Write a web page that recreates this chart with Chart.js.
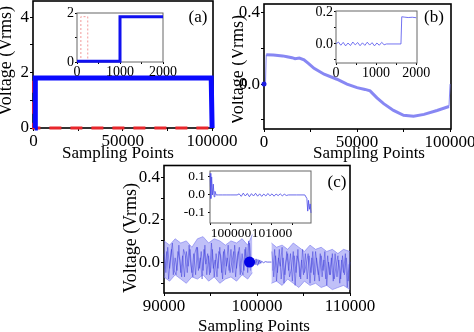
<!DOCTYPE html>
<html>
<head>
<meta charset="utf-8">
<script src="https://cdn.jsdelivr.net/npm/chart.js@4.4.1/dist/chart.umd.min.js"></script>
<style>
  body { margin: 0; background: #fff; width: 474px; height: 332px; position: relative; overflow: hidden; }
  canvas { position: absolute; }
</style>
</head>
<body>
<canvas id="ca"></canvas>
<canvas id="cb"></canvas>
<canvas id="cc"></canvas>
<canvas id="ia"></canvas>
<canvas id="ib"></canvas>
<canvas id="ic"></canvas>
<script>
// ---- panel (a) ----
const aBlueX = [600, 1000, 1000, 99500, 100000];
const aBlueY = [0, 0, 1.8, 1.8, 0];
const aRedX = [0, 0, 100000];
const aRedY = [1.7, 0, 0];
const aXTicks = [0, 25000, 50000, 75000, 100000];
const aXLabels = ['0', '', '50000', '', '100000'];
const aYTicks = [0, 1, 2, 3, 4];
const aYLabels = ['0', '', '2', '', '4'];

// inset (a)
const iaBlueX = [0, 1000, 1000, 2000];
const iaBlueY = [0.03, 0.03, 1.85, 1.85];
const iaPinkX = [90, 90, 250, 250];
const iaPinkY = [0, 1.85, 1.85, 0];
const iaXTicks = [0, 500, 1000, 1500, 2000];
const iaXLabels = ['0', '', '1000', '', '2000'];
const iaYTicks = [0, 1, 2];
const iaYLabels = ['0', '', '2'];

// ---- panel (b) ----
const bX = [800, 1200, 5000, 10000, 12400, 15000, 16700, 19000, 21500, 24000, 26900, 32300, 39200, 44600,
            50000, 54300, 57000, 60700, 64300, 69600, 75000, 80400, 86000, 93000, 99400, 100000];
const bY = [0.0, 0.165, 0.163, 0.158, 0.153, 0.148, 0.142, 0.146, 0.136, 0.115, 0.088, 0.055, 0.027, 0.0,
            -0.02, -0.03, -0.038, -0.077, -0.11, -0.148, -0.175, -0.18, -0.17, -0.148, -0.126, 0.0];
const bDotX = [0];
const bDotY = [0.0];
const bXTicks = [0, 25000, 50000, 75000, 100000];
const bXLabels = ['0', '', '50000', '', '100000'];
const bYTicks = [-0.2, 0, 0.2, 0.4];
const bYLabels = ['', '0.0', '', '0.4'];

// inset (b)
const ibX = [0, 60, 120, 180, 240, 300, 360, 420, 480, 540, 600, 660, 720, 780, 840, 900, 960, 1020, 1080,
             1140, 1200, 1260, 1620, 1640, 1700, 1800, 1900, 2000];
const ibY = [0.0, 0.012, -0.008, 0.01, -0.012, 0.006, -0.01, 0.012, -0.006, 0.009, -0.011, 0.007, -0.009,
             0.011, -0.007, 0.008, -0.012, 0.006, -0.008, 0.01, -0.005, 0.0, 0.0, 0.17, 0.168, 0.165, 0.167, 0.164];
const ibXTicks = [0, 500, 1000, 1500, 2000];
const ibXLabels = ['0', '', '1000', '', '2000'];
const ibYTicks = [-0.1, 0, 0.1, 0.2];
const ibYLabels = ['', '0.0', '', '0.2'];

// ---- panel (c) ----
const cLX = [90000, 90600, 91200, 91800, 92400, 93000, 93600, 94200, 94800, 95400, 96000, 96600, 97200,
             97800, 98400, 99000, 99500];
const cLUp = [0.10, 0.08, 0.11, 0.09, 0.10, 0.07, 0.11, 0.12, 0.09, 0.11, 0.10, 0.08, 0.10, 0.09, 0.11, 0.08, 0.13];
const cLLo = [-0.07, -0.09, -0.06, -0.08, -0.10, -0.07, -0.08, -0.06, -0.09, -0.07, -0.10, -0.08, -0.07,
              -0.09, -0.06, -0.08, -0.05];
const cLTrX = [90000, 90200, 90400, 90600, 90800, 91000, 91200, 91400, 91600, 91800, 92000, 92200, 92400,
               92600, 92800, 93000, 93200, 93400, 93600, 93800, 94000, 94200, 94400, 94600, 94800, 95000,
               95200, 95400, 95600, 95800, 96000, 96200, 96400, 96600, 96800, 97000, 97200, 97400, 97600,
               97800, 98000, 98200, 98400, 98600, 98800, 99000, 99200, 99400];
const cLTrY = [0.04, -0.05, 0.07, -0.03, 0.06, -0.06, 0.02, -0.04, 0.08, -0.05, 0.03, -0.07, 0.05, -0.02,
               0.06, -0.05, 0.04, -0.06, 0.07, -0.03, 0.05, -0.04, 0.08, -0.06, 0.03, -0.05, 0.06, -0.07,
               0.04, -0.03, 0.07, -0.05, 0.05, -0.06, 0.02, -0.04, 0.06, -0.05, 0.08, -0.03, 0.05, -0.06,
               0.04, -0.04, 0.07, -0.05, 0.09, -0.02];
const cLTr2X = [90100, 90300, 90500, 90700, 90900, 91100, 91300, 91500, 91700, 91900, 92100, 92300, 92500,
                92700, 92900, 93100, 93300, 93500, 93700, 93900, 94100, 94300, 94500, 94700, 94900, 95100,
                95300, 95500, 95700, 95900, 96100, 96300, 96500, 96700, 96900, 97100, 97300, 97500, 97700,
                97900, 98100, 98300, 98500, 98700, 98900, 99100, 99300];
const cLTr2Y = [-0.03, 0.05, -0.08, 0.02, 0.09, -0.04, -0.06, 0.05, 0.01, -0.07, 0.06, 0.03, -0.05, 0.08,
                -0.02, -0.07, 0.04, 0.07, -0.04, 0.02, -0.08, 0.06, -0.01, 0.04, -0.06, 0.09, -0.03, 0.01,
                -0.07, 0.05, 0.03, -0.08, 0.06, -0.02, 0.08, -0.05, 0.0, 0.05, -0.07, 0.03, 0.07, -0.04,
                -0.06, 0.06, -0.02, 0.1, -0.04];
const cRX = [101550, 102100, 102700, 103300, 103900, 104500, 105100, 105700, 106300, 106900, 107500,
             108100, 108700, 109300, 110000];
const cRUp = [0.09, 0.07, 0.08, 0.06, 0.09, 0.07, 0.05, 0.08, 0.06, 0.07, 0.05, 0.06, 0.04, 0.06, 0.05];
const cRLo = [-0.10, -0.09, -0.11, -0.08, -0.10, -0.12, -0.09, -0.11, -0.10, -0.12, -0.11, -0.13, -0.12,
              -0.11, -0.13];
const cRTrX = [101600, 101800, 102000, 102200, 102400, 102600, 102800, 103000, 103200, 103400, 103600,
               103800, 104000, 104200, 104400, 104600, 104800, 105000, 105200, 105400, 105600, 105800,
               106000, 106200, 106400, 106600, 106800, 107000, 107200, 107400, 107600, 107800, 108000,
               108200, 108400, 108600, 108800, 109000, 109200, 109400, 109600, 109800, 110000];
const cRTrY = [0.05, -0.07, 0.03, -0.05, 0.06, -0.08, 0.02, -0.06, 0.05, -0.04, 0.04, -0.09, 0.03, -0.05,
               0.06, -0.07, 0.01, -0.06, 0.04, -0.08, 0.03, -0.05, 0.05, -0.09, 0.02, -0.06, 0.04, -0.07,
               0.01, -0.08, 0.03, -0.06, 0.02, -0.09, 0.04, -0.07, 0.01, -0.08, 0.03, -0.06, 0.02, -0.09, 0.0];
const cRTr2X = [101700, 101900, 102100, 102300, 102500, 102700, 102900, 103100, 103300, 103500, 103700,
                103900, 104100, 104300, 104500, 104700, 104900, 105100, 105300, 105500, 105700, 105900,
                106100, 106300, 106500, 106700, 106900, 107100, 107300, 107500, 107700, 107900, 108100,
                108300, 108500, 108700, 108900, 109100, 109300, 109500, 109700, 109900];
const cRTr2Y = [-0.04, 0.06, -0.09, 0.02, -0.02, 0.07, -0.1, 0.0, 0.04, -0.07, -0.03, 0.05, -0.11, 0.03,
                0.0, -0.08, 0.06, -0.05, -0.01, 0.04, -0.1, 0.02, -0.06, 0.05, -0.03, -0.09, 0.03, -0.04,
                0.05, -0.11, 0.0, -0.06, 0.04, -0.08, -0.02, 0.03, -0.1, 0.01, -0.05, 0.04, -0.12, -0.01];
const cMX = [99500, 99700, 99800, 99900, 100000, 100100, 100200, 100300, 100400, 100500, 100700, 100900,
             101100, 101300, 101550];
const cMY = [0.0, 0.01, -0.012, 0.015, -0.014, 0.012, -0.01, 0.01, -0.006, 0.004, -0.003, 0.002, 0.0, 0.0, 0.0];
const cDotX = [99200];
const cDotY = [0.0];
const cXTicks = [90000, 95000, 100000, 105000, 110000];
const cXLabels = ['90000', '', '100000', '', '110000'];
const cYTicks = [-0.1, 0, 0.1, 0.2, 0.3, 0.4];
const cYLabels = ['', '0.0', '', '0.2', '', '0.4'];

// inset (c)
const icX = [99490, 99510, 99530, 99550, 99570, 99590, 99610, 99640, 99700, 99800, 99900, 100000, 100150,
             100200, 100250, 100300, 100350, 100400, 100450, 100500, 100550, 100600, 100650, 100700,
             100750, 100800, 100850, 100900, 100950, 101000, 101050, 101100, 101150, 101200, 101250,
             101300, 101350, 101400, 101600, 101800, 101850, 101870, 101890, 101910, 101930, 101950];
const icY = [0.12, -0.02, 0.10, 0.0, 0.06, -0.01, 0.02, 0.0, 0.0, 0.0, 0.0, 0.0, 0.0, 0.006, -0.008, 0.01,
             -0.006, 0.008, -0.01, 0.007, -0.006, 0.009, -0.007, 0.006, -0.008, 0.005, -0.006, 0.008,
             -0.005, 0.006, -0.007, 0.005, -0.004, 0.006, -0.005, 0.004, -0.003, 0.0, 0.0, 0.0, -0.02,
             -0.09, -0.03, -0.08, -0.05, -0.1];
const icXTicks = [99500, 100000, 100500, 101000, 101500];
const icXLabels = ['', '100000', '', '101000', ''];
const icYTicks = [-0.1, 0, 0.1];
const icYLabels = ['-0.1', '0.0', '0.1'];

const FONT = 'Liberation Serif';
const pts = (xs, ys) => xs.map((x, i) => ({ x: x, y: ys[i] }));

// box around the plot area
const framePlugin = {
  id: 'frame',
  beforeDatasetsDraw(chart, args, o) {
    const a = chart.chartArea, c = chart.ctx;
    c.save();
    c.strokeStyle = o.color;
    c.lineWidth = o.width;
    c.strokeRect(a.left, a.top, a.right - a.left, a.bottom - a.top);
    c.restore();
  }
};

// axis titles and panel letters, given in page coordinates
const textPlugin = {
  id: 'texts',
  afterDraw(chart, args, o) {
    const c = chart.ctx;
    (o.items || []).forEach(t => {
      c.save();
      c.font = t.size + 'px "' + FONT + '"';
      c.fillStyle = '#000';
      c.textAlign = 'center';
      c.textBaseline = 'alphabetic';
      c.translate(t.x - o.ox, t.y - o.oy);
      if (t.rot) c.rotate(-Math.PI / 2);
      c.fillText(t.text, 0, 0);
      c.restore();
    });
  }
};

function axis(min, max, ticks, labels, size, fixed, horiz, tl, pad) {
  return {
    type: 'linear', min: min, max: max,
    afterBuildTicks: s => { s.ticks = ticks.map(v => ({ value: v })); },
    afterFit: s => {
      if (horiz) s.height = fixed; else s.width = fixed;
      s.paddingLeft = 0; s.paddingRight = 0; s.paddingTop = 0; s.paddingBottom = 0;
    },
    ticks: {
      autoSkip: false, maxRotation: 0, minRotation: 0, padding: pad, color: '#000',
      font: { family: FONT, size: size },
      callback: (v, i) => labels[i]
    },
    grid: { drawOnChartArea: false, tickLength: tl, color: '#000', lineWidth: 1 },
    border: { display: false }
  };
}

function make(id, box, area, sc, datasets, frame, texts) {
  const cv = document.getElementById(id);
  cv.width = box.w; cv.height = box.h;
  cv.style.left = box.x + 'px'; cv.style.top = box.y + 'px';
  const yw = area.l - box.x, xh = box.y + box.h - area.b;
  return new Chart(cv, {
    type: 'line',
    data: { datasets: datasets },
    options: {
      responsive: false, animation: false, devicePixelRatio: 1, events: [],
      layout: { padding: { left: 0, top: area.t - box.y, right: box.x + box.w - area.r, bottom: 0 } },
      scales: {
        x: axis(sc.x[0], sc.x[1], sc.x[2], sc.x[3], sc.fs, xh, true, sc.tl, sc.px),
        y: axis(sc.y[0], sc.y[1], sc.y[2], sc.y[3], sc.fs, yw, false, sc.tl, sc.py)
      },
      plugins: {
        legend: { display: false }, tooltip: { enabled: false },
        frame: frame,
        texts: { ox: box.x, oy: box.y, items: texts }
      }
    },
    plugins: [framePlugin, textPlugin]
  });
}

function line(data, color, width, extra) {
  return Object.assign({ data: data, borderColor: color, borderWidth: width, pointRadius: 0,
    tension: 0, fill: false, clip: false }, extra || {});
}

// panel (a)
make('ca', { x: 0, y: 0, w: 240, h: 165 }, { l: 33, t: 1, r: 213, b: 128 },
  { x: [-300, 100500, aXTicks, aXLabels], y: [0, 4.58, aYTicks, aYLabels], fs: 17, tl: 3, px: 0, py: 1 },
  [
    line(pts(aBlueX, aBlueY), '#0a0aff', 5),
    line(pts(aRedX, aRedY), '#e8262b', 3, { borderDash: [12, 9] })
  ],
  { color: '#000', width: 1.6 },
  [
    { text: 'Voltage (Vrms)', x: 11, y: 61, size: 18, rot: true },
    { text: 'Sampling Points', x: 118, y: 158, size: 17 },
    { text: '(a)', x: 198, y: 22, size: 17 }
  ]);

// panel (b)
make('cb', { x: 232, y: 0, w: 242, h: 165 }, { l: 264, t: 1, r: 451, b: 129 },
  { x: [0, 100500, bXTicks, bXLabels], y: [-0.252, 0.449, bYTicks, bYLabels], fs: 17, tl: 3, px: 0, py: 1 },
  [
    line(pts(bDotX, bDotY), '#1c1ce0', 0, { pointRadius: 2.5, pointBackgroundColor: '#1c1ce0', showLine: false }),
    line(pts(bX, bY), 'rgba(105,105,240,0.8)', 3, {
      segment: { borderWidth: ctx => (ctx.p0DataIndex === 0 || ctx.p1DataIndex === bX.length - 1) ? 1 : 3 }
    })
  ],
  { color: '#000', width: 1.6 },
  [
    { text: 'Voltage (Vrms)', x: 243, y: 70, size: 18, rot: true },
    { text: 'Sampling Points', x: 369, y: 158, size: 17 },
    { text: '(b)', x: 434, y: 22, size: 17 }
  ]);

// panel (c)
const bandFill = 'rgba(130,130,242,0.5)';
const bandEdge = 'rgba(120,120,240,0.6)';
const trace = 'rgba(50,50,215,0.45)';
make('cc', { x: 100, y: 160, w: 290, h: 172 }, { l: 164, t: 165, r: 350, b: 293 },
  { x: [90000, 110000, cXTicks, cXLabels], y: [-0.146, 0.456, cYTicks, cYLabels], fs: 17, tl: 3, px: 0, py: 1 },
  [
    line(pts(cDotX, cDotY), '#0000e6', 0, { pointRadius: 5.5, pointBackgroundColor: '#0000e6', showLine: false }),
    line(pts(cMX, cMY), 'rgba(70,70,225,0.8)', 1),
    line(pts(cLTrX, cLTrY), trace, 1),
    line(pts(cLTr2X, cLTr2Y), trace, 1),
    line(pts(cRTrX, cRTrY), trace, 1),
    line(pts(cRTr2X, cRTr2Y), trace, 1),
    line(pts(cLX, cLUp), bandEdge, 1, { fill: '+1', backgroundColor: bandFill }),
    line(pts(cLX, cLLo), bandEdge, 1),
    line(pts(cRX, cRUp), bandEdge, 1, { fill: '+1', backgroundColor: bandFill }),
    line(pts(cRX, cRLo), bandEdge, 1)
  ],
  { color: '#000', width: 1.6 },
  [
    { text: 'Voltage (Vrms)', x: 136, y: 238, size: 18, rot: true },
    { text: 'Sampling Points', x: 254, y: 331, size: 17 },
    { text: '(c)', x: 337, y: 187, size: 17 }
  ]);

// insets
make('ia', { x: 50, y: 0, w: 130, h: 85 }, { l: 77, t: 13, r: 163, b: 62 },
  { x: [0, 2000, iaXTicks, iaXLabels], y: [0, 2, iaYTicks, iaYLabels], fs: 14, tl: 2, px: 0, py: 1 },
  [
    line(pts(iaBlueX, iaBlueY), '#1010f0', 3),
    line(pts(iaPinkX, iaPinkY), '#f29a9a', 1, { borderDash: [2, 2] })
  ],
  { color: '#666', width: 1 }, []);

make('ib', { x: 296, y: 0, w: 140, h: 85 }, { l: 336, t: 11, r: 417, b: 63 },
  { x: [0, 2020, ibXTicks, ibXLabels], y: [-0.119, 0.206, ibYTicks, ibYLabels], fs: 14, tl: 2, px: 0, py: 1 },
  [ line(pts(ibX, ibY), 'rgba(90,90,238,0.85)', 1) ],
  { color: '#666', width: 1 }, []);

make('ic', { x: 168, y: 160, w: 165, h: 85 }, { l: 210, t: 171, r: 311, b: 223 },
  { x: [99490, 101950, icXTicks, icXLabels], y: [-0.156, 0.133, icYTicks, icYLabels], fs: 13.5, tl: 2, px: 0, py: 3 },
  [ line(pts(icX, icY), 'rgba(80,80,232,0.85)', 1) ],
  { color: '#666', width: 1 }, []);
</script>
</body>
</html>
